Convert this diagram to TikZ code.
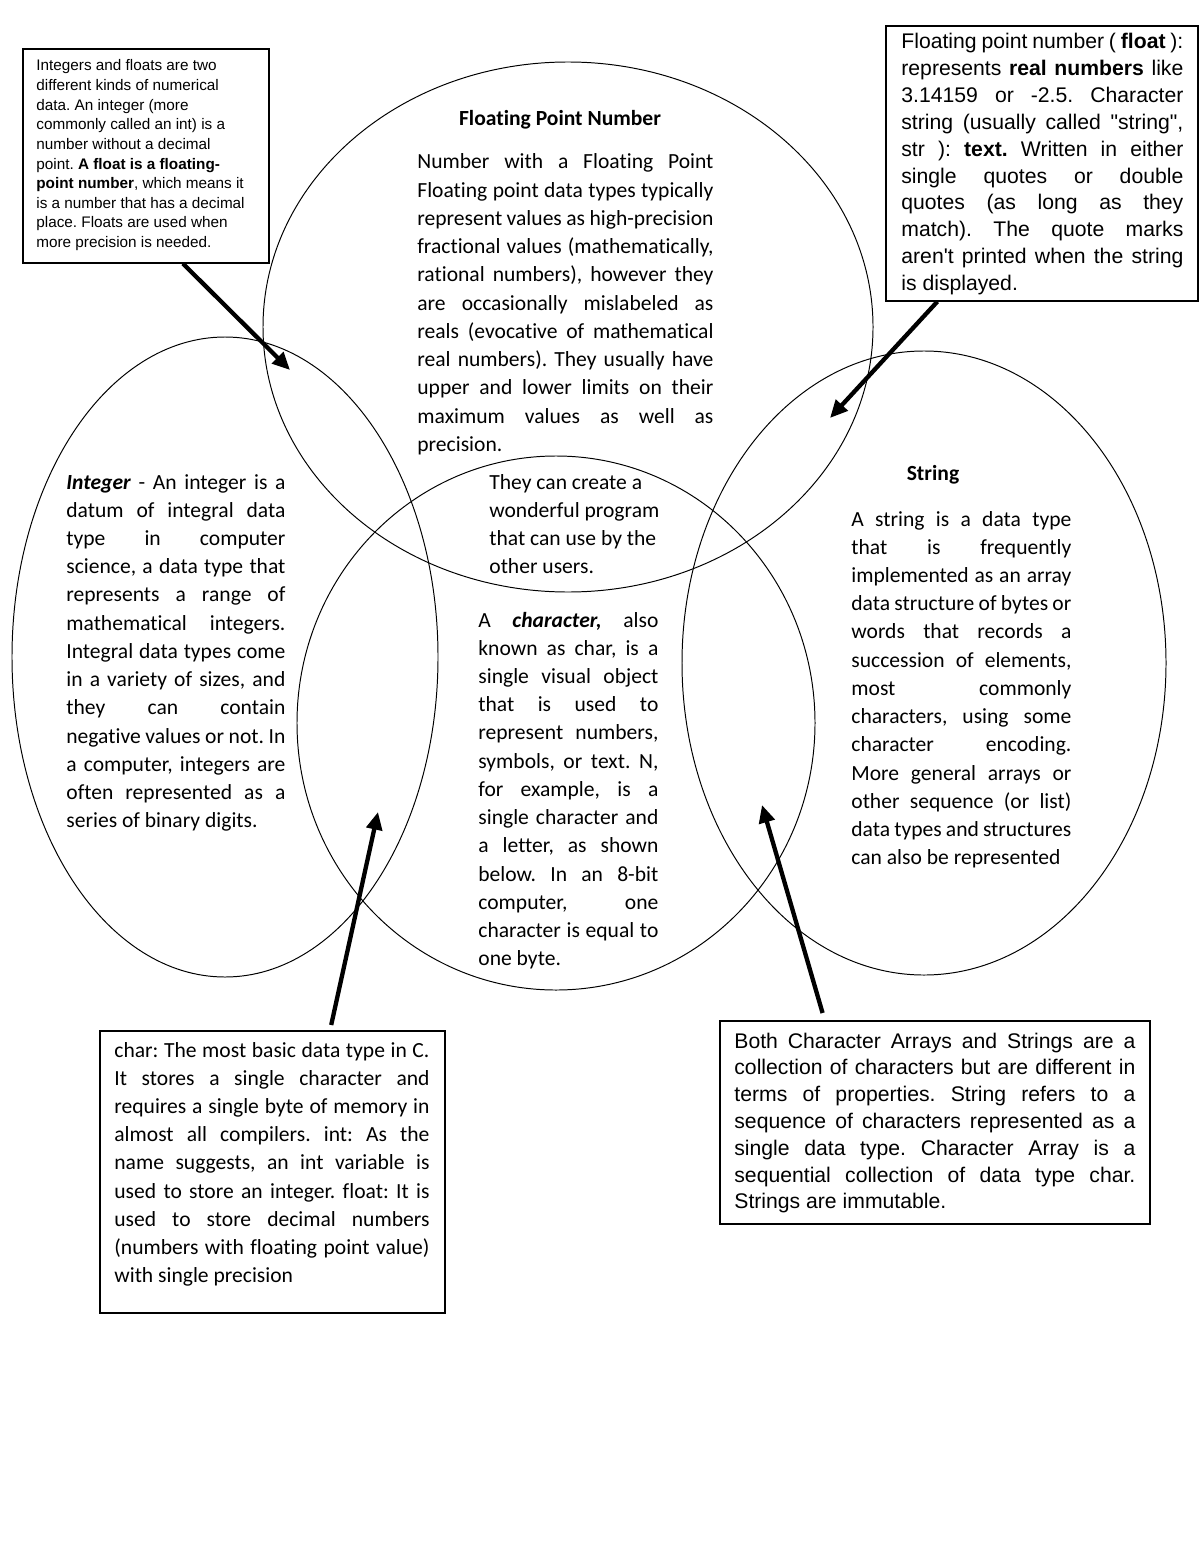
\documentclass[tikz,border=0pt]{standalone}
\usepackage{fontspec}
\setmainfont{Carlito}[Ligatures={TeX,NoCommon}]
\newfontfamily\arialf{Liberation Sans}[Ligatures={TeX,NoCommon}]
\usetikzlibrary{arrows.meta,shapes.geometric,calc}
\newcommand{\jl}[1]{{\spaceskip=0pt\xspaceskip=0pt\makebox[\hsize][s]{#1}}\\}
\newcommand{\nl}[1]{{\spaceskip=0pt\xspaceskip=0pt #1}\\}
\newcommand{\el}[1]{{\spaceskip=0pt\xspaceskip=0pt #1}}
\begin{document}
\begin{tikzpicture}[x=0.51pt,y=-0.51pt,
  venn/.style={draw, ellipse, line width=0.5pt, inner sep=0pt},
  infobox/.style={draw, line width=0.8pt, rectangle, inner sep=0pt, anchor=north west},
  body/.style={inner sep=0pt, anchor=base west, align=justify, font=\frenchspacing\fontsize{11}{14.4}\selectfont},
  abody/.style={inner sep=0pt, anchor=base west, align=justify, font=\frenchspacing\arialf\fontsize{10.8}{13.67}\selectfont},
  sbody/.style={inner sep=0pt, anchor=base west, align=justify, font=\frenchspacing\arialf\fontsize{7.8}{10}\selectfont},
  head/.style={inner sep=0pt, font=\bfseries\fontsize{11}{14.4}\selectfont},
  ptr/.style={line width=2.2pt, -{Triangle[length=9pt,width=8pt]}}]
\fill[white] (0,0) rectangle (1200,1553);
\useasboundingbox (0,0) rectangle (1200,1553);

% Venn ellipses
\node[venn, minimum width=311.1pt, minimum height=270.3pt] (fp) at (568,327) {};
\node[venn, minimum width=217.26pt, minimum height=326.4pt] (int) at (225,657) {};
\node[venn, minimum width=264.18pt, minimum height=272.34pt] (chr) at (556,723) {};
\node[venn, minimum width=246.84pt, minimum height=318.24pt] (str) at (924,663) {};

% Boxes
\node[infobox, minimum width=125.46pt, minimum height=109.14pt] (tlb) at (22,48) {};
\node[infobox, minimum width=159.12pt, minimum height=140.25pt] (trb) at (885,25) {};
\node[infobox, minimum width=175.95pt, minimum height=143.82pt] (blb) at (99,1030) {};
\node[infobox, minimum width=219.3pt, minimum height=103.53pt] (brb) at (719,1020) {};

% Floating point
\node[head] (fph) at (560,120) {Floating Point Number};
\node[body, text width=151pt] (fpt) at (417,169) {%
\jl{Number with a Floating Point}
\jl{Floating point data types typically}
\jl{represent values as high-precision}
\jl{fractional values (mathematically,}
\jl{rational numbers), however they}
\jl{are occasionally mislabeled as}
\jl{reals (evocative of mathematical}
\jl{real numbers). They usually have}
\jl{upper and lower limits on their}
\jl{maximum values as well as}
\el{precision.}};

\node[body, text width=100pt] (they) at (489,489) {%
\nl{They can create a}
\nl{wonderful program}
\nl{that can use by the}
\el{other users.}};

\node[body, text width=91.8pt] (chrt) at (478,627) {%
\jl{A \textit{\textbf{character,}} also}
\jl{known as char, is a}
\jl{single visual object}
\jl{that is used to}
\jl{represent numbers,}
\jl{symbols, or text. N,}
\jl{for example, is a}
\jl{single character and}
\jl{a letter, as shown}
\jl{below. In an 8-bit}
\jl{computer, one}
\jl{character is equal to}
\el{one byte.}};

\node[body, text width=111.7pt] (intt) at (66,489) {%
\jl{\textbf{\textit{Integer}} - An integer is a}
\jl{datum of integral data}
\jl{type in computer}
\jl{science, a data type that}
\jl{represents a range of}
\jl{mathematical integers.}
\jl{Integral data types come}
\jl{in a variety of sizes, and}
\jl{they can contain}
\jl{negative values or not. In}
\jl{a computer, integers are}
\jl{often represented as a}
\el{series of binary digits.}};

\node[head] (strh) at (933,475) {String};
\node[body, text width=112.2pt] (strt) at (851,526) {%
\jl{A string is a data type}
\jl{that is frequently}
\jl{implemented as an array}
\jl{data structure of bytes or}
\jl{words that records a}
\jl{succession of elements,}
\jl{most commonly}
\jl{characters, using some}
\jl{character encoding.}
\jl{More general arrays or}
\jl{other sequence (or list)}
\jl{data types and structures}
\el{can also be represented}};

% Box texts
\node[sbody, text width=118pt] (tlt) at (36,71) {%
\nl{Integers and floats are two}
\nl{different kinds of numerical}
\nl{data. An integer (more}
\nl{commonly called an int) is a}
\nl{number without a decimal}
\nl{point. \textbf{A float is a floating-}}
\nl{\textbf{point number}, which means it}
\nl{is a number that has a decimal}
\nl{place. Floats are used when}
\el{more precision is needed.}};

\node[abody, text width=143.8pt] (trt) at (901,49) {%
\jl{Floating point number ( \textbf{float} ):}
\jl{represents \textbf{real numbers} like}
\jl{3.14159 or -2.5. Character}
\jl{string (usually called \textquotedbl string\textquotedbl,}
\jl{str ): \textbf{text.} Written in either}
\jl{single quotes or double}
\jl{quotes (as long as they}
\jl{match). The quote marks}
\jl{aren\textquotesingle t printed when the string}
\el{is displayed.}};

\node[body, text width=160.7pt] (blt) at (114,1057) {%
\jl{char: The most basic data type in C.}
\jl{It stores a single character and}
\jl{requires a single byte of memory in}
\jl{almost all compilers. int: As the}
\jl{name suggests, an int variable is}
\jl{used to store an integer. float: It is}
\jl{used to store decimal numbers}
\jl{(numbers with floating point value)}
\el{with single precision}};

\node[abody, text width=204.5pt] (brt) at (734,1048) {%
\jl{Both Character Arrays and Strings are a}
\jl{collection of characters but are different in}
\jl{terms of properties. String refers to a}
\jl{sequence of characters represented as a}
\jl{single data type. Character Array is a}
\jl{sequential collection of data type char.}
\el{Strings are immutable.}};

% Arrows
\coordinate (a1) at (290,370);
\coordinate (a2) at (830,418);
\coordinate (a3) at (378,812);
\coordinate (a4) at (762,805);
\draw[ptr] ($(tlb.south west)!0.65!(tlb.south east)$) -- (a1);
\draw[ptr] ($(trb.south west)!0.167!(trb.south east)$) -- (a2);
\draw[ptr] ($(blb.north west)!0.67!(blb.north east) + (0,-5)$) -- (a3);
\draw[ptr] ($(brb.north west)!0.24!(brb.north east) + (0,-7)$) -- (a4);
\end{tikzpicture}
\end{document}
